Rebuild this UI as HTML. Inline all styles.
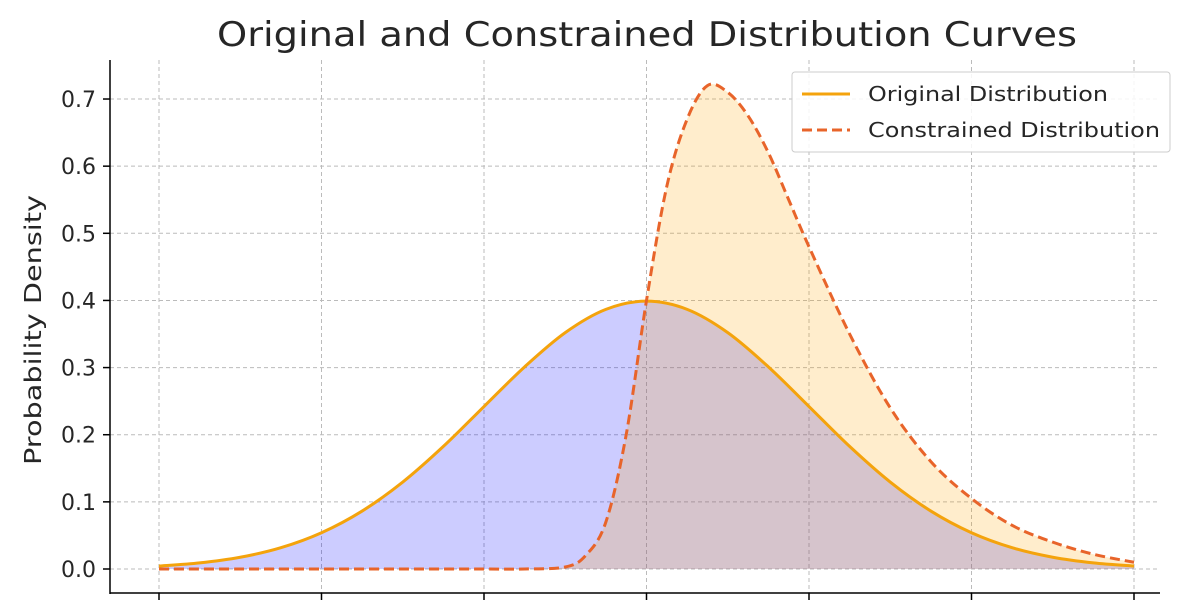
<!DOCTYPE html>
<html><head><meta charset="utf-8"><style>
body{margin:0;background:#fff}
svg{display:block;font-family:"DejaVu Sans","Liberation Sans",sans-serif}
</style></head><body>
<svg id="chart" width="1200" height="600" viewBox="0 0 1200 600" xmlns="http://www.w3.org/2000/svg">
<rect width="1200" height="600" fill="#fff"/>
<text x="647" y="46" font-size="34" text-anchor="middle" textLength="860" lengthAdjust="spacingAndGlyphs" fill="#262626">Original and Constrained Distribution Curves</text>
<text transform="translate(41,330) rotate(-90)" font-size="23" text-anchor="middle" textLength="270" lengthAdjust="spacingAndGlyphs" fill="#262626">Probability Density</text>
<g id="grid"></g>
<g id="fills"></g>
<g id="lines"></g>
<line x1="110" y1="60" x2="110" y2="594" stroke="#000" stroke-width="1.5"/>
<line x1="110" y1="593" x2="1160" y2="593" stroke="#000" stroke-width="1.5"/>
<g id="ticks"></g>
<g>
<rect x="792" y="72" width="378" height="80" fill="#fff" fill-opacity="0.85" stroke="#ccc" rx="3"/>
<line x1="802" y1="94" x2="850" y2="94" stroke="#f4a30c" stroke-width="3"/>
<text x="868" y="101" font-size="20" textLength="240" lengthAdjust="spacingAndGlyphs" fill="#262626">Original Distribution</text>
<line x1="802" y1="130" x2="850" y2="130" stroke="#e8642a" stroke-width="3" stroke-dasharray="10,5"/>
<text x="868" y="137" font-size="20" textLength="292" lengthAdjust="spacingAndGlyphs" fill="#262626">Constrained Distribution</text>
</g>
</svg>
<script>
const xTicks=[-3,-2,-1,0,1,2,3];
const yTicks=[0,0.1,0.2,0.3,0.4,0.5,0.6,0.7];
const yTickLabels=["0.0","0.1","0.2","0.3","0.4","0.5","0.6","0.7"];
const origX=[-3,-2.75,-2.5,-2.25,-2,-1.75,-1.5,-1.25,-1,-0.75,-0.5,-0.25,0,0.25,0.5,0.75,1,1.25,1.5,1.75,2,2.25,2.5,2.75,3];
const origY=[0.0044,0.0091,0.0175,0.0317,0.054,0.0863,0.1295,0.1826,0.242,0.3011,0.3521,0.3867,0.3989,0.3867,0.3521,0.3011,0.242,0.1826,0.1295,0.0863,0.054,0.0317,0.0175,0.0091,0.0044];
const consX=[-3,-2.5,-2,-1.5,-1,-0.75,-0.5,-0.375,-0.25,-0.125,0,0.125,0.25,0.375,0.5,0.625,0.75,0.875,1,1.25,1.5,1.75,2,2.25,2.5,2.75,3];
const consY=[0,0,0,0,0,0,0.003,0.02,0.07,0.2,0.4,0.57,0.67,0.72,0.71,0.675,0.62,0.55,0.48,0.35,0.24,0.16,0.105,0.065,0.04,0.022,0.01];
const NS="http://www.w3.org/2000/svg";
const sx=v=>159+(v+3)*162.5;
const sy=v=>569-v*671.4;
function mk(tag,attrs,parent){const e=document.createElementNS(NS,tag);for(const k in attrs)e.setAttribute(k,attrs[k]);parent.appendChild(e);return e;}
function path(xs,ys){const p=xs.map((x,i)=>[sx(x),sy(ys[i])]);let d="M"+p[0][0]+","+p[0][1];
for(let i=0;i<p.length-1;i++){const p0=p[Math.max(i-1,0)],p1=p[i],p2=p[i+1],p3=p[Math.min(i+2,p.length-1)];
const c1=[p1[0]+(p2[0]-p0[0])/6,p1[1]+(p2[1]-p0[1])/6],c2=[p2[0]-(p3[0]-p1[0])/6,p2[1]-(p3[1]-p1[1])/6];
d+=" C"+c1[0]+","+c1[1]+" "+c2[0]+","+c2[1]+" "+p2[0]+","+p2[1];}return d;}
const grid=document.getElementById("grid"),ticks=document.getElementById("ticks");
xTicks.forEach(t=>{
const g=mk("line",{x1:sx(t),x2:sx(t),y1:60,y2:593,stroke:"#bbb","stroke-dasharray":"4,3","stroke-width":1},grid);


const tk=mk("line",{x1:sx(t),x2:sx(t),y1:593,y2:600,stroke:"#000","stroke-width":1.5},ticks);


});
yTicks.forEach((t,i)=>{
const g=mk("line",{x1:110,x2:1160,y1:sy(t),y2:sy(t),stroke:"#bbb","stroke-dasharray":"4,3","stroke-width":1},grid);


const tk=mk("line",{x1:103,x2:110,y1:sy(t),y2:sy(t),stroke:"#000","stroke-width":1.5},ticks);


const lb=mk("text",{x:96,y:sy(t)+8,"font-size":22,"text-anchor":"end",fill:"#262626"},ticks);
lb.textContent=yTickLabels[i];


});
const fills=document.getElementById("fills"),lines=document.getElementById("lines");
const dO=path(origX,origY),dC=path(consX,consY);
const fo=mk("path",{d:dO+" L"+sx(3)+","+sy(0)+" L"+sx(-3)+","+sy(0)+" Z",fill:"rgba(0,0,255,0.2)"},fills);


const fc=mk("path",{d:dC+" L"+sx(3)+","+sy(0)+" L"+sx(-3)+","+sy(0)+" Z",fill:"rgba(255,165,0,0.2)"},fills);


const lo=mk("path",{d:dO,fill:"none",stroke:"#f4a30c","stroke-width":3},lines);


const lc=mk("path",{d:dC,fill:"none",stroke:"#e8642a","stroke-width":3,"stroke-dasharray":"10,5"},lines);


</script>
</body></html>
